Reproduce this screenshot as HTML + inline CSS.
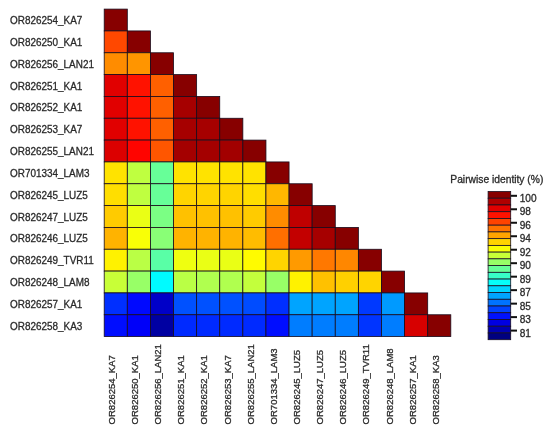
<!DOCTYPE html><html><head><meta charset="utf-8"><title>Pairwise identity</title>
<style>html,body{margin:0;padding:0;background:#fff}svg{display:block}text{font-family:"Liberation Sans",Arial,sans-serif;fill:#2a2a2a;stroke:#2a2a2a;stroke-width:0.3px}</style></head><body>
<svg width="550" height="437" viewBox="0 0 550 437">
<rect width="550" height="437" fill="#fff"/>
<g stroke="#180c1c" stroke-width="0.8">
<rect x="104.20" y="9.10" width="23.11" height="21.83" fill="#870000"/>
<rect x="104.20" y="30.93" width="23.11" height="21.83" fill="#ff4800"/>
<rect x="127.31" y="30.93" width="23.11" height="21.83" fill="#870000"/>
<rect x="104.20" y="52.77" width="23.11" height="21.83" fill="#ff8c00"/>
<rect x="127.31" y="52.77" width="23.11" height="21.83" fill="#ff9500"/>
<rect x="150.41" y="52.77" width="23.11" height="21.83" fill="#870000"/>
<rect x="104.20" y="74.60" width="23.11" height="21.83" fill="#e10000"/>
<rect x="127.31" y="74.60" width="23.11" height="21.83" fill="#ff1200"/>
<rect x="150.41" y="74.60" width="23.11" height="21.83" fill="#ff6000"/>
<rect x="173.52" y="74.60" width="23.11" height="21.83" fill="#870000"/>
<rect x="104.20" y="96.43" width="23.11" height="21.83" fill="#e10000"/>
<rect x="127.31" y="96.43" width="23.11" height="21.83" fill="#ff1200"/>
<rect x="150.41" y="96.43" width="23.11" height="21.83" fill="#ff6000"/>
<rect x="173.52" y="96.43" width="23.11" height="21.83" fill="#a60000"/>
<rect x="196.63" y="96.43" width="23.11" height="21.83" fill="#870000"/>
<rect x="104.20" y="118.26" width="23.11" height="21.83" fill="#e10000"/>
<rect x="127.31" y="118.26" width="23.11" height="21.83" fill="#ff1200"/>
<rect x="150.41" y="118.26" width="23.11" height="21.83" fill="#ff6000"/>
<rect x="173.52" y="118.26" width="23.11" height="21.83" fill="#a60000"/>
<rect x="196.63" y="118.26" width="23.11" height="21.83" fill="#a60000"/>
<rect x="219.74" y="118.26" width="23.11" height="21.83" fill="#870000"/>
<rect x="104.20" y="140.10" width="23.11" height="21.83" fill="#dc0000"/>
<rect x="127.31" y="140.10" width="23.11" height="21.83" fill="#ff0400"/>
<rect x="150.41" y="140.10" width="23.11" height="21.83" fill="#ff5600"/>
<rect x="173.52" y="140.10" width="23.11" height="21.83" fill="#a40000"/>
<rect x="196.63" y="140.10" width="23.11" height="21.83" fill="#a40000"/>
<rect x="219.74" y="140.10" width="23.11" height="21.83" fill="#a20000"/>
<rect x="242.84" y="140.10" width="23.11" height="21.83" fill="#870000"/>
<rect x="104.20" y="161.93" width="23.11" height="21.83" fill="#ffe300"/>
<rect x="127.31" y="161.93" width="23.11" height="21.83" fill="#bfff40"/>
<rect x="150.41" y="161.93" width="23.11" height="21.83" fill="#67ff98"/>
<rect x="173.52" y="161.93" width="23.11" height="21.83" fill="#ffe300"/>
<rect x="196.63" y="161.93" width="23.11" height="21.83" fill="#ffe300"/>
<rect x="219.74" y="161.93" width="23.11" height="21.83" fill="#ffe300"/>
<rect x="242.84" y="161.93" width="23.11" height="21.83" fill="#ffe300"/>
<rect x="265.95" y="161.93" width="23.11" height="21.83" fill="#870000"/>
<rect x="104.20" y="183.76" width="23.11" height="21.83" fill="#ffde00"/>
<rect x="127.31" y="183.76" width="23.11" height="21.83" fill="#bfff40"/>
<rect x="150.41" y="183.76" width="23.11" height="21.83" fill="#67ff98"/>
<rect x="173.52" y="183.76" width="23.11" height="21.83" fill="#ffd400"/>
<rect x="196.63" y="183.76" width="23.11" height="21.83" fill="#ffd400"/>
<rect x="219.74" y="183.76" width="23.11" height="21.83" fill="#ffd400"/>
<rect x="242.84" y="183.76" width="23.11" height="21.83" fill="#ffde00"/>
<rect x="265.95" y="183.76" width="23.11" height="21.83" fill="#ffb700"/>
<rect x="289.06" y="183.76" width="23.11" height="21.83" fill="#870000"/>
<rect x="104.20" y="205.60" width="23.11" height="21.83" fill="#ffcb00"/>
<rect x="127.31" y="205.60" width="23.11" height="21.83" fill="#eaff15"/>
<rect x="150.41" y="205.60" width="23.11" height="21.83" fill="#7bff84"/>
<rect x="173.52" y="205.60" width="23.11" height="21.83" fill="#ffc100"/>
<rect x="196.63" y="205.60" width="23.11" height="21.83" fill="#ffc100"/>
<rect x="219.74" y="205.60" width="23.11" height="21.83" fill="#ffc100"/>
<rect x="242.84" y="205.60" width="23.11" height="21.83" fill="#ffcb00"/>
<rect x="265.95" y="205.60" width="23.11" height="21.83" fill="#ff8c00"/>
<rect x="289.06" y="205.60" width="23.11" height="21.83" fill="#bf0000"/>
<rect x="312.16" y="205.60" width="23.11" height="21.83" fill="#870000"/>
<rect x="104.20" y="227.43" width="23.11" height="21.83" fill="#ffb300"/>
<rect x="127.31" y="227.43" width="23.11" height="21.83" fill="#f9ff06"/>
<rect x="150.41" y="227.43" width="23.11" height="21.83" fill="#89ff76"/>
<rect x="173.52" y="227.43" width="23.11" height="21.83" fill="#ffb300"/>
<rect x="196.63" y="227.43" width="23.11" height="21.83" fill="#ffb300"/>
<rect x="219.74" y="227.43" width="23.11" height="21.83" fill="#ffb300"/>
<rect x="242.84" y="227.43" width="23.11" height="21.83" fill="#ffbc00"/>
<rect x="265.95" y="227.43" width="23.11" height="21.83" fill="#ff6f00"/>
<rect x="289.06" y="227.43" width="23.11" height="21.83" fill="#c30000"/>
<rect x="312.16" y="227.43" width="23.11" height="21.83" fill="#a60000"/>
<rect x="335.27" y="227.43" width="23.11" height="21.83" fill="#870000"/>
<rect x="104.20" y="249.26" width="23.11" height="21.83" fill="#fff200"/>
<rect x="127.31" y="249.26" width="23.11" height="21.83" fill="#baff45"/>
<rect x="150.41" y="249.26" width="23.11" height="21.83" fill="#59ffa6"/>
<rect x="173.52" y="249.26" width="23.11" height="21.83" fill="#efff10"/>
<rect x="196.63" y="249.26" width="23.11" height="21.83" fill="#eaff15"/>
<rect x="219.74" y="249.26" width="23.11" height="21.83" fill="#eaff15"/>
<rect x="242.84" y="249.26" width="23.11" height="21.83" fill="#fffb00"/>
<rect x="265.95" y="249.26" width="23.11" height="21.83" fill="#ffd400"/>
<rect x="289.06" y="249.26" width="23.11" height="21.83" fill="#ff9a00"/>
<rect x="312.16" y="249.26" width="23.11" height="21.83" fill="#ff7800"/>
<rect x="335.27" y="249.26" width="23.11" height="21.83" fill="#ff8700"/>
<rect x="358.38" y="249.26" width="23.11" height="21.83" fill="#870000"/>
<rect x="104.20" y="271.10" width="23.11" height="21.83" fill="#c8ff37"/>
<rect x="127.31" y="271.10" width="23.11" height="21.83" fill="#98ff67"/>
<rect x="150.41" y="271.10" width="23.11" height="21.83" fill="#00fbff"/>
<rect x="173.52" y="271.10" width="23.11" height="21.83" fill="#baff45"/>
<rect x="196.63" y="271.10" width="23.11" height="21.83" fill="#b0ff4f"/>
<rect x="219.74" y="271.10" width="23.11" height="21.83" fill="#b0ff4f"/>
<rect x="242.84" y="271.10" width="23.11" height="21.83" fill="#c3ff3c"/>
<rect x="265.95" y="271.10" width="23.11" height="21.83" fill="#98ff67"/>
<rect x="289.06" y="271.10" width="23.11" height="21.83" fill="#fff200"/>
<rect x="312.16" y="271.10" width="23.11" height="21.83" fill="#ffc100"/>
<rect x="335.27" y="271.10" width="23.11" height="21.83" fill="#ffd000"/>
<rect x="358.38" y="271.10" width="23.11" height="21.83" fill="#ffd400"/>
<rect x="381.48" y="271.10" width="23.11" height="21.83" fill="#870000"/>
<rect x="104.20" y="292.93" width="23.11" height="21.83" fill="#002fff"/>
<rect x="127.31" y="292.93" width="23.11" height="21.83" fill="#0009ff"/>
<rect x="150.41" y="292.93" width="23.11" height="21.83" fill="#0000c8"/>
<rect x="173.52" y="292.93" width="23.11" height="21.83" fill="#0051ff"/>
<rect x="196.63" y="292.93" width="23.11" height="21.83" fill="#0051ff"/>
<rect x="219.74" y="292.93" width="23.11" height="21.83" fill="#0051ff"/>
<rect x="242.84" y="292.93" width="23.11" height="21.83" fill="#004cff"/>
<rect x="265.95" y="292.93" width="23.11" height="21.83" fill="#002fff"/>
<rect x="289.06" y="292.93" width="23.11" height="21.83" fill="#00a4ff"/>
<rect x="312.16" y="292.93" width="23.11" height="21.83" fill="#00a4ff"/>
<rect x="335.27" y="292.93" width="23.11" height="21.83" fill="#00a4ff"/>
<rect x="358.38" y="292.93" width="23.11" height="21.83" fill="#0039ff"/>
<rect x="381.48" y="292.93" width="23.11" height="21.83" fill="#009aff"/>
<rect x="404.59" y="292.93" width="23.11" height="21.83" fill="#870000"/>
<rect x="104.20" y="314.76" width="23.11" height="21.83" fill="#000dff"/>
<rect x="127.31" y="314.76" width="23.11" height="21.83" fill="#0000f9"/>
<rect x="150.41" y="314.76" width="23.11" height="21.83" fill="#0000a2"/>
<rect x="173.52" y="314.76" width="23.11" height="21.83" fill="#002aff"/>
<rect x="196.63" y="314.76" width="23.11" height="21.83" fill="#002aff"/>
<rect x="219.74" y="314.76" width="23.11" height="21.83" fill="#002aff"/>
<rect x="242.84" y="314.76" width="23.11" height="21.83" fill="#002aff"/>
<rect x="265.95" y="314.76" width="23.11" height="21.83" fill="#000dff"/>
<rect x="289.06" y="314.76" width="23.11" height="21.83" fill="#007dff"/>
<rect x="312.16" y="314.76" width="23.11" height="21.83" fill="#007dff"/>
<rect x="335.27" y="314.76" width="23.11" height="21.83" fill="#007dff"/>
<rect x="358.38" y="314.76" width="23.11" height="21.83" fill="#0034ff"/>
<rect x="381.48" y="314.76" width="23.11" height="21.83" fill="#007dff"/>
<rect x="404.59" y="314.76" width="23.11" height="21.83" fill="#d70000"/>
<rect x="427.70" y="314.76" width="23.11" height="21.83" fill="#870000"/>
</g>
<g font-size="10.7">
<text transform="translate(10.1,24.12) scale(0.928,1)">OR826254_KA7</text>
<text transform="translate(10.1,45.95) scale(0.928,1)">OR826250_KA1</text>
<text transform="translate(10.1,67.78) scale(0.928,1)">OR826256_LAN21</text>
<text transform="translate(10.1,89.62) scale(0.928,1)">OR826251_KA1</text>
<text transform="translate(10.1,111.45) scale(0.928,1)">OR826252_KA1</text>
<text transform="translate(10.1,133.28) scale(0.928,1)">OR826253_KA7</text>
<text transform="translate(10.1,155.11) scale(0.928,1)">OR826255_LAN21</text>
<text transform="translate(10.1,176.95) scale(0.928,1)">OR701334_LAM3</text>
<text transform="translate(10.1,198.78) scale(0.928,1)">OR826245_LUZ5</text>
<text transform="translate(10.1,220.61) scale(0.928,1)">OR826247_LUZ5</text>
<text transform="translate(10.1,242.45) scale(0.928,1)">OR826246_LUZ5</text>
<text transform="translate(10.1,264.28) scale(0.928,1)">OR826249_TVR11</text>
<text transform="translate(10.1,286.11) scale(0.928,1)">OR826248_LAM8</text>
<text transform="translate(10.1,307.95) scale(0.928,1)">OR826257_KA1</text>
<text transform="translate(10.1,329.78) scale(0.928,1)">OR826258_KA3</text>
</g>
<g font-size="9.6">
<text transform="translate(114.85,424.4) rotate(-90) scale(0.99,1)">OR826254_KA7</text>
<text transform="translate(138.00,424.4) rotate(-90) scale(0.99,1)">OR826250_KA1</text>
<text transform="translate(161.15,424.4) rotate(-90) scale(0.99,1)">OR826256_LAN21</text>
<text transform="translate(184.29,424.4) rotate(-90) scale(0.99,1)">OR826251_KA1</text>
<text transform="translate(207.44,424.4) rotate(-90) scale(0.99,1)">OR826252_KA1</text>
<text transform="translate(230.59,424.4) rotate(-90) scale(0.99,1)">OR826253_KA7</text>
<text transform="translate(253.74,424.4) rotate(-90) scale(0.99,1)">OR826255_LAN21</text>
<text transform="translate(276.88,424.4) rotate(-90) scale(0.99,1)">OR701334_LAM3</text>
<text transform="translate(300.03,424.4) rotate(-90) scale(0.99,1)">OR826245_LUZ5</text>
<text transform="translate(323.18,424.4) rotate(-90) scale(0.99,1)">OR826247_LUZ5</text>
<text transform="translate(346.32,424.4) rotate(-90) scale(0.99,1)">OR826246_LUZ5</text>
<text transform="translate(369.47,424.4) rotate(-90) scale(0.99,1)">OR826249_TVR11</text>
<text transform="translate(392.62,424.4) rotate(-90) scale(0.99,1)">OR826248_LAM8</text>
<text transform="translate(415.76,424.4) rotate(-90) scale(0.99,1)">OR826257_KA1</text>
<text transform="translate(438.91,424.4) rotate(-90) scale(0.99,1)">OR826258_KA3</text>
</g>
<text transform="translate(450.3,182.8) scale(0.98,1)" font-size="10.5">Pairwise identity (%)</text>
<g stroke="#1a1020" stroke-width="0.8">
<rect x="488.10" y="191.50" width="22.60" height="6.74" fill="#870000"/>
<rect x="488.10" y="198.24" width="22.60" height="6.74" fill="#b00000"/>
<rect x="488.10" y="204.97" width="22.60" height="6.74" fill="#e10000"/>
<rect x="488.10" y="211.71" width="22.60" height="6.74" fill="#ff1200"/>
<rect x="488.10" y="218.44" width="22.60" height="6.74" fill="#ff4300"/>
<rect x="488.10" y="225.18" width="22.60" height="6.74" fill="#ff7300"/>
<rect x="488.10" y="231.92" width="22.60" height="6.74" fill="#ffa400"/>
<rect x="488.10" y="238.65" width="22.60" height="6.74" fill="#ffd400"/>
<rect x="488.10" y="245.39" width="22.60" height="6.74" fill="#f9ff06"/>
<rect x="488.10" y="252.12" width="22.60" height="6.74" fill="#c8ff37"/>
<rect x="488.10" y="258.86" width="22.60" height="6.74" fill="#98ff67"/>
<rect x="488.10" y="265.60" width="22.60" height="6.74" fill="#67ff98"/>
<rect x="488.10" y="272.33" width="22.60" height="6.74" fill="#37ffc8"/>
<rect x="488.10" y="279.07" width="22.60" height="6.74" fill="#06fff9"/>
<rect x="488.10" y="285.80" width="22.60" height="6.74" fill="#00d5ff"/>
<rect x="488.10" y="292.54" width="22.60" height="6.74" fill="#00a4ff"/>
<rect x="488.10" y="299.28" width="22.60" height="6.74" fill="#0073ff"/>
<rect x="488.10" y="306.01" width="22.60" height="6.74" fill="#0043ff"/>
<rect x="488.10" y="312.75" width="22.60" height="6.74" fill="#0012ff"/>
<rect x="488.10" y="319.48" width="22.60" height="6.74" fill="#0000e1"/>
<rect x="488.10" y="326.22" width="22.60" height="6.74" fill="#0000b0"/>
<rect x="488.10" y="332.96" width="22.60" height="6.74" fill="#000080"/>
</g>
<g font-size="10.6">
<rect x="510.70" y="194.80" width="6.3" height="2" fill="#111"/>
<text transform="translate(519.7,201.80) scale(0.955,1)">100</text>
<rect x="510.70" y="208.28" width="6.3" height="2" fill="#111"/>
<text transform="translate(519.7,215.28) scale(0.955,1)">98</text>
<rect x="510.70" y="221.76" width="6.3" height="2" fill="#111"/>
<text transform="translate(519.7,228.76) scale(0.955,1)">96</text>
<rect x="510.70" y="235.24" width="6.3" height="2" fill="#111"/>
<text transform="translate(519.7,242.24) scale(0.955,1)">94</text>
<rect x="510.70" y="248.72" width="6.3" height="2" fill="#111"/>
<text transform="translate(519.7,255.72) scale(0.955,1)">92</text>
<rect x="510.70" y="262.20" width="6.3" height="2" fill="#111"/>
<text transform="translate(519.7,269.20) scale(0.955,1)">90</text>
<rect x="510.70" y="275.68" width="6.3" height="2" fill="#111"/>
<text transform="translate(519.7,282.68) scale(0.955,1)">89</text>
<rect x="510.70" y="289.16" width="6.3" height="2" fill="#111"/>
<text transform="translate(519.7,296.16) scale(0.955,1)">87</text>
<rect x="510.70" y="302.64" width="6.3" height="2" fill="#111"/>
<text transform="translate(519.7,309.64) scale(0.955,1)">85</text>
<rect x="510.70" y="316.12" width="6.3" height="2" fill="#111"/>
<text transform="translate(519.7,323.12) scale(0.955,1)">83</text>
<rect x="510.70" y="329.60" width="6.3" height="2" fill="#111"/>
<text transform="translate(519.7,336.60) scale(0.955,1)">81</text>
</g>
</svg></body></html>
